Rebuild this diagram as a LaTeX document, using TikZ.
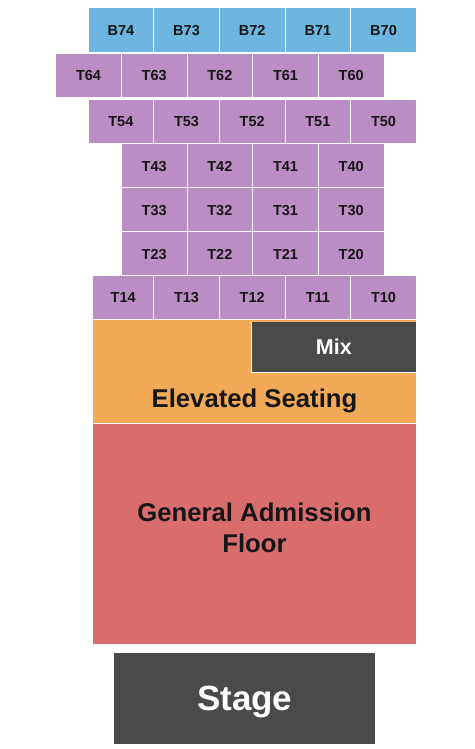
\documentclass[tikz,border=0pt]{standalone}
\usepackage{fontspec}
\setmainfont{Liberation Sans}
\definecolor{balcony}{HTML}{6CB6DF}
\definecolor{tables}{HTML}{BC8CC4}
\definecolor{elevated}{HTML}{F2AA58}
\definecolor{floorred}{HTML}{D96D6D}
\definecolor{darkbox}{HTML}{4A4A4A}
\definecolor{labelink}{HTML}{161616}
\begin{document}
\begin{tikzpicture}[x=1pt,y=-1pt,
  seat/.style={draw=white,line width=1pt,inner sep=0pt,outer sep=0pt,
    minimum width=65.67pt,minimum height=44.6pt,text=labelink,
    text height=10.4pt,text depth=0pt,
    font=\fontsize{14.5}{16}\selectfont\bfseries},
  area/.style={inner sep=0pt,outer sep=0pt},
  bigtext/.style={text=labelink,font=\fontsize{25.7}{31}\selectfont\bfseries}]
\useasboundingbox[fill=white] (0,0) rectangle (474,749);
\foreach \n [count=\i from 0] in {74,73,72,71,70}
  \node[seat,fill=balcony] (B\n) at (120.85+65.67*\i,30) {B\n};
\foreach \n [count=\i from 0] in {64,63,62,61,60}
  \node[seat,fill=tables] (T\n) at (88.5+65.67*\i,75.5) {T\n};
\foreach \n [count=\i from 0] in {54,53,52,51,50}
  \node[seat,fill=tables] (T\n) at (120.85+65.67*\i,121.5) {T\n};
\foreach \n [count=\i from 0] in {43,42,41,40}
  \node[seat,fill=tables] (T\n) at (154.2+65.67*\i,166) {T\n};
\foreach \n [count=\i from 0] in {33,32,31,30}
  \node[seat,fill=tables] (T\n) at (154.2+65.67*\i,210) {T\n};
\foreach \n [count=\i from 0] in {23,22,21,20}
  \node[seat,fill=tables] (T\n) at (154.2+65.67*\i,254) {T\n};
\node[seat,fill=tables,minimum width=61pt] (T14) at (123.2,297.5) {T14};
\foreach \n [count=\i from 0] in {13,12,11,10}
  \node[seat,fill=tables] (T\n) at (186.5+65.67*\i,297.5) {T\n};
\fill[elevated] (92.7,320) rectangle (416,423);
\node[area,fill=darkbox,minimum width=164.3pt,minimum height=50.6pt,text=white,
  font=\fontsize{21.5}{24}\selectfont\bfseries] (mix) at (333.85,347) {Mix};
\draw[white,line width=1.5pt] (mix.north west) -- (mix.south west) -- (mix.south east);
\node[bigtext,anchor=base] (elevlabel) at (254.5,407) {Elevated Seating};
\node[area,fill=floorred,minimum width=323.3pt,minimum height=220pt] (floor) at (254.35,534) {};
\node[bigtext,align=center] (floorlabel) at (254.5,528) {General Admission\\Floor};
\node[area,fill=darkbox,minimum width=261pt,minimum height=90.7pt,text=white,text depth=0pt,
  font=\fontsize{35}{40}\selectfont\bfseries] (stage) at (244.8,698.7) {Stage};
\end{tikzpicture}
\end{document}
